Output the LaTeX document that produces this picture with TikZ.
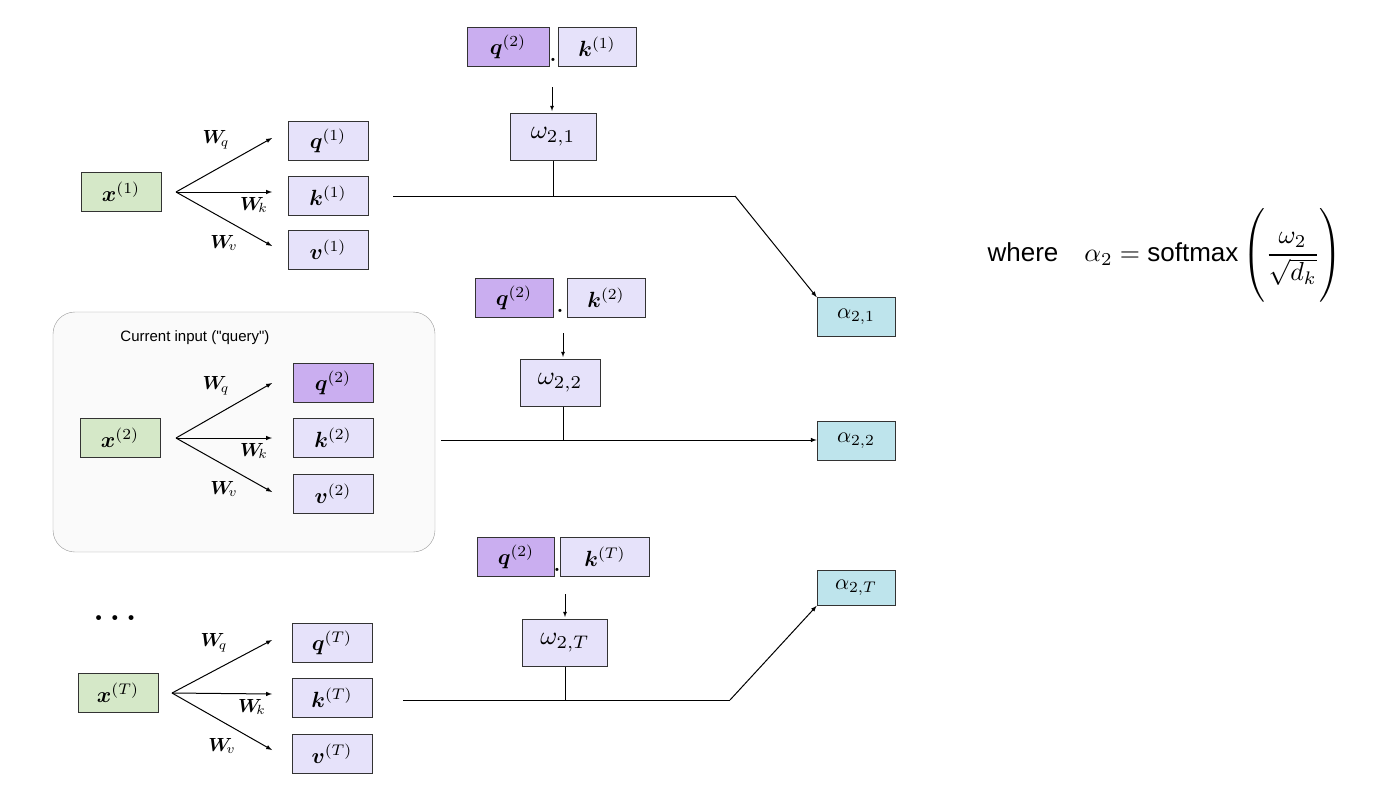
\documentclass[tikz,border=0pt]{standalone}
\usepackage{amsmath,bm,graphicx}
\usepackage{fontspec}
\newfontfamily\lsans{Liberation Sans}
\newcommand\SBx[2]{\scalebox{#1}{#2}}
\begin{document}
\begin{tikzpicture}[x=1pt,y=-1pt,
  bx/.style={draw=black!80,line width=0.6pt,minimum width=80pt,minimum height=39pt,inner sep=0pt},
  xb/.style={bx,fill={rgb,255:red,213;green,232;blue,200}},
  lp/.style={bx,fill={rgb,255:red,230;green,226;blue,250}},
  dp/.style={bx,fill={rgb,255:red,202;green,174;blue,240}},
  ab/.style={bx,minimum width=78pt,fill={rgb,255:red,190;green,228;blue,236}},
  om/.style={lp,minimum width=86pt,minimum height=47pt},
  wl/.style={},
  dt/.style={font=\bfseries\fontsize{22}{22}\selectfont,inner sep=0pt},
  arr/.style={-latex,line width=1pt},
  ln/.style={line width=1pt}]
\useasboundingbox (0,0) rectangle (1400,798);
\node[draw=black!40,fill=black!2,rounded corners=22pt,minimum width=382pt,minimum height=240pt] (cur) at (244,432) {};
\node[font=\lsans\fontsize{15}{17}\selectfont] (curl) at (195,338) {Current input ("query")};
% row 1
\node[xb] (x1) at (121,192) {\SBx{2.2}{$\bm{x}^{(1)}$}};
\node[lp] (q1) at (328,141) {\SBx{2.2}{$\bm{q}^{(1)}$}};
\node[lp] (k1) at (328,196) {\SBx{2.2}{$\bm{k}^{(1)}$}};
\node[lp] (v1) at (328,250) {\SBx{2.2}{$\bm{v}^{(1)}$}};
\coordinate (f1) at (176,192);
\coordinate (f1q) at (272,138); \coordinate (f1k) at (272,192); \coordinate (f1v) at (272,246);
\draw[arr] (f1) -- (f1q); \draw[arr] (f1) -- (f1k); \draw[arr] (f1) -- (f1v);
\node[wl] (wq1) at (216,140) {\SBx{1.9}{$\bm{W}_{\!q}$}};
\node[wl] (wk1) at (254,205) {\SBx{1.9}{$\bm{W}_{\!k}$}};
\node[wl] (wv1) at (224,243) {\SBx{1.9}{$\bm{W}_{\!v}$}};
\node[dp,minimum width=82pt] (t1q) at (508,47) {\SBx{2.2}{$\bm{q}^{(2)}$}};
\node[lp,minimum width=78pt] (t1k) at (597,47) {\SBx{2.2}{$\bm{k}^{(1)}$}};
\node[dt] (d1) at (553,60) {.};
\coordinate (a1s) at (552,87); \coordinate (a1e) at (552,111);
\draw[-latex,line width=0.8pt] (a1s) -- (a1e);
\node[om] (o1) at (553,137) {\SBx{2.6}{$\omega_{2,1}$}};
\node[ab] (al1) at (856,317) {\SBx{2.2}{$\alpha_{2,1}$}};
\coordinate (h1s) at (393,196); \coordinate (h1m) at (553,196); \coordinate (h1b) at (735,196);
\draw[ln] (o1.south) -- (h1m);
\draw[ln] (h1s) -- (h1b);
\draw[arr] (h1b) -- (al1.north west);
% row 2
\node[xb] (x2) at (120,438) {\SBx{2.2}{$\bm{x}^{(2)}$}};
\node[dp] (q2) at (333,383) {\SBx{2.2}{$\bm{q}^{(2)}$}};
\node[lp] (k2) at (333,438) {\SBx{2.2}{$\bm{k}^{(2)}$}};
\node[lp] (v2) at (333,494) {\SBx{2.2}{$\bm{v}^{(2)}$}};
\coordinate (f2) at (176,438);
\coordinate (f2q) at (272,383); \coordinate (f2k) at (272,438); \coordinate (f2v) at (272,492);
\draw[arr] (f2) -- (f2q); \draw[arr] (f2) -- (f2k); \draw[arr] (f2) -- (f2v);
\node[wl] (wq2) at (216,386) {\SBx{1.9}{$\bm{W}_{\!q}$}};
\node[wl] (wk2) at (254,451) {\SBx{1.9}{$\bm{W}_{\!k}$}};
\node[wl] (wv2) at (224,489) {\SBx{1.9}{$\bm{W}_{\!v}$}};
\node[dp,minimum width=78pt] (t2q) at (514,298) {\SBx{2.2}{$\bm{q}^{(2)}$}};
\node[lp,minimum width=78pt] (t2k) at (606,298) {\SBx{2.2}{$\bm{k}^{(2)}$}};
\node[dt] (d2) at (560,311) {.};
\coordinate (a2s) at (563,333); \coordinate (a2e) at (563,357);
\draw[-latex,line width=0.8pt] (a2s) -- (a2e);
\node[om,minimum width=80pt] (o2) at (560,383) {\SBx{2.6}{$\omega_{2,2}$}};
\node[ab] (al2) at (856,441) {\SBx{2.2}{$\alpha_{2,2}$}};
\coordinate (h2s) at (441,440); \coordinate (h2m) at (563,440);
\draw[ln] (o2.south -| h2m) -- (h2m);
\draw[arr] (h2s) -- (al2.west |- h2s);
% row 3
\node[font=\bfseries\fontsize{34}{34}\selectfont] (dots) at (115,618) {.\,.\,.};
\node[xb] (x3) at (118,693) {\SBx{2.2}{$\bm{x}^{(T)}$}};
\node[lp] (q3) at (332,643) {\SBx{2.2}{$\bm{q}^{(T)}$}};
\node[lp] (k3) at (332,698) {\SBx{2.2}{$\bm{k}^{(T)}$}};
\node[lp] (v3) at (332,754) {\SBx{2.2}{$\bm{v}^{(T)}$}};
\coordinate (f3) at (172,693);
\coordinate (f3q) at (272,640); \coordinate (f3k) at (272,694); \coordinate (f3v) at (272,750);
\draw[arr] (f3) -- (f3q); \draw[arr] (f3) -- (f3k); \draw[arr] (f3) -- (f3v);
\node[wl] (wq3) at (214,643) {\SBx{1.9}{$\bm{W}_{\!q}$}};
\node[wl] (wk3) at (252,707) {\SBx{1.9}{$\bm{W}_{\!k}$}};
\node[wl] (wv3) at (222,746) {\SBx{1.9}{$\bm{W}_{\!v}$}};
\node[dp,minimum width=77pt] (t3q) at (516,557) {\SBx{2.2}{$\bm{q}^{(2)}$}};
\node[lp,minimum width=89pt] (t3k) at (605,557) {\SBx{2.2}{$\bm{k}^{(T)}$}};
\node[dt] (d3) at (557,570) {.};
\coordinate (a3s) at (565,594); \coordinate (a3e) at (565,617);
\draw[-latex,line width=0.8pt] (a3s) -- (a3e);
\node[om,minimum width=85pt] (o3) at (565,643) {\SBx{2.6}{$\omega_{2,T}$}};
\node[ab,minimum height=35pt] (al3) at (856,588) {\SBx{2.2}{$\alpha_{2,T}$}};
\coordinate (h3s) at (403,700); \coordinate (h3m) at (565,700); \coordinate (h3b) at (730,700);
\draw[ln] (o3.south) -- (h3m);
\draw[ln] (h3s) -- (h3b);
\draw[arr] (h3b) -- (al3.south west);
% formula
\node (form) at (1165,255) {\SBx{2.6}{{\lsans where}\quad $\alpha_2 = \text{\lsans softmax}\left(\vphantom{\dfrac{\Big|}{\Big|}}\dfrac{\omega_2}{\sqrt{d_k}}\right)$}};
\end{tikzpicture}
\end{document}
